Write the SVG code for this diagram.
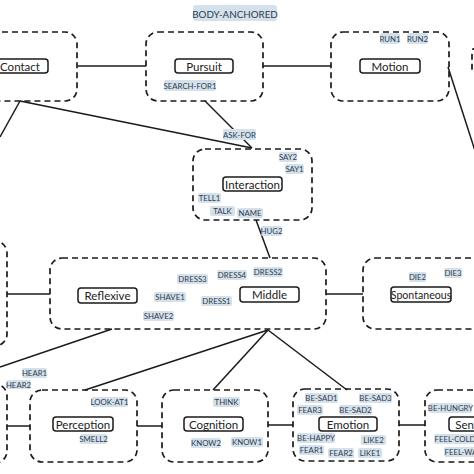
<svg xmlns="http://www.w3.org/2000/svg" width="474" height="474" viewBox="0 0 474 474">
<style>
.grp{fill:none;stroke:#1a1a1a;stroke-width:1.7;stroke-dasharray:6 4}
.lbl{fill:#fff;stroke:#1a1a1a;stroke-width:1.5}
.lt{font-family:Lato,"Open Sans",sans-serif;font-size:11.5px;fill:#222;text-anchor:middle;dominant-baseline:central}
.tag{fill:#d5e1ea}
.tt{font-family:Lato,"Open Sans",sans-serif;font-size:7.8px;fill:#2c3c50;text-anchor:middle;dominant-baseline:central}
.ln{stroke:#1a1a1a;stroke-width:1.5;fill:none}
</style>
<rect width="474" height="474" fill="#fff"/>
<g id="title">
<rect class="tag" x="193" y="5" width="84" height="16" rx="3"/>
<text class="tt" x="235" y="13.5" style="font-size:9.8px">BODY-ANCHORED</text>
</g>
<g id="connectors">
<line class="ln" x1="78" y1="66" x2="146" y2="66"/>
<line class="ln" x1="263" y1="66" x2="331" y2="66"/>
<line class="ln" x1="20" y1="101" x2="0" y2="137"/>
<line class="ln" x1="20" y1="101" x2="252" y2="148"/>
<line class="ln" x1="205" y1="101" x2="252" y2="148"/>
<line class="ln" x1="448" y1="67" x2="478" y2="160"/>
<line class="ln" x1="256" y1="220" x2="270" y2="258"/>
<line class="ln" x1="7" y1="294" x2="50" y2="294"/>
<line class="ln" x1="326" y1="294" x2="363" y2="294"/>
<line class="ln" x1="112" y1="329" x2="0" y2="367"/>
<line class="ln" x1="268" y1="330" x2="85" y2="390"/>
<line class="ln" x1="268" y1="330" x2="213" y2="390"/>
<line class="ln" x1="268" y1="330" x2="347" y2="390"/>
<line class="ln" x1="7" y1="426" x2="30" y2="426"/>
<line class="ln" x1="137" y1="426" x2="162" y2="426"/>
<line class="ln" x1="268" y1="425" x2="293" y2="425"/>
<line class="ln" x1="399" y1="425" x2="425" y2="425"/>
</g>
<g id="contact">
<rect class="grp" x="-60" y="32" width="137" height="69" rx="12"/>
<rect class="lbl" x="-12" y="59" width="60" height="14" rx="3"/>
<text class="lt" x="20" y="66">Contact</text>
</g>
<g id="pursuit">
<rect class="grp" x="146" y="32" width="117" height="69" rx="12"/>
<rect class="lbl" x="175" y="59" width="58" height="14" rx="3"/>
<text class="lt" x="204" y="66">Pursuit</text>
<rect class="tag" x="164" y="80" width="52" height="11" rx="2"/><text class="tt" x="190" y="85.5">SEARCH-FOR1</text>
</g>
<g id="motion">
<rect class="grp" x="331" y="32" width="118" height="69" rx="12"/>
<rect class="lbl" x="360" y="59" width="60" height="14" rx="3"/>
<text class="lt" x="390" y="66">Motion</text>
<rect class="tag" x="380" y="33" width="20" height="11" rx="2"/><text class="tt" x="390" y="38.5">RUN1</text>
<rect class="tag" x="407" y="33" width="21" height="11" rx="2"/><text class="tt" x="417.5" y="38.5">RUN2</text>
</g>
<g id="right-top">
<path class="grp" d="M478 48 L473 49 L472 54 L472 72"/>
</g>
<g id="interaction">
<rect class="grp" x="193" y="149" width="119" height="71" rx="12"/>
<rect class="lbl" x="223" y="177" width="59" height="14" rx="3"/>
<text class="lt" x="252.5" y="184">Interaction</text>
<rect class="tag" x="223" y="129" width="33" height="11" rx="2"/><text class="tt" x="239.5" y="134.5">ASK-FOR</text>
<rect class="tag" x="279" y="152" width="18" height="10" rx="2"/><text class="tt" x="288" y="157">SAY2</text>
<rect class="tag" x="285" y="164" width="19" height="10" rx="2"/><text class="tt" x="294.5" y="169">SAY1</text>
<rect class="tag" x="198" y="193" width="23" height="10" rx="2"/><text class="tt" x="209.5" y="198">TELL1</text>
<rect class="tag" x="210" y="206" width="25" height="10" rx="2"/><text class="tt" x="222.5" y="211">TALK</text>
<rect class="tag" x="237" y="208" width="26" height="10" rx="2"/><text class="tt" x="250" y="213">NAME</text>
<rect class="tag" x="261" y="226" width="21" height="10" rx="2"/><text class="tt" x="271.5" y="231">HUG2</text>
</g>
<g id="left-mid">
<rect class="grp" x="-110" y="241" width="117" height="105" rx="12"/>
</g>
<g id="middle-group">
<rect class="grp" x="50" y="258" width="276" height="71" rx="12"/>
<rect class="lbl" x="78" y="288" width="59" height="15" rx="3"/>
<text class="lt" x="107.5" y="295.5">Reflexive</text>
<rect class="lbl" x="240" y="287" width="59" height="15" rx="3"/>
<text class="lt" x="269.5" y="294.5">Middle</text>
<rect class="tag" x="177" y="274" width="31" height="10" rx="2"/><text class="tt" x="192.5" y="279">DRESS3</text>
<rect class="tag" x="217" y="270" width="30" height="10" rx="2"/><text class="tt" x="232" y="275">DRESS4</text>
<rect class="tag" x="253" y="267" width="30" height="10" rx="2"/><text class="tt" x="268" y="272">DRESS2</text>
<rect class="tag" x="154" y="292" width="32" height="10" rx="2"/><text class="tt" x="170" y="297">SHAVE1</text>
<rect class="tag" x="201" y="296" width="31" height="10" rx="2"/><text class="tt" x="216.5" y="301">DRESS1</text>
<rect class="tag" x="143" y="311" width="31" height="10" rx="2"/><text class="tt" x="158.5" y="316">SHAVE2</text>
</g>
<g id="spontaneous">
<rect class="grp" x="363" y="258" width="140" height="71" rx="12"/>
<rect class="lbl" x="391" y="287" width="60" height="15" rx="3"/>
<text class="lt" x="421" y="294.5" style="font-size:10.6px">Spontaneous</text>
<rect class="tag" x="409" y="272" width="17" height="10" rx="2"/><text class="tt" x="417.5" y="277">DIE2</text>
<rect class="tag" x="444" y="268" width="18" height="10" rx="2"/><text class="tt" x="453" y="273">DIE3</text>
</g>
<g id="hear">
<rect class="grp" x="-110" y="384" width="117" height="79" rx="12"/>
<rect class="tag" x="22" y="368" width="25" height="10" rx="2"/><text class="tt" x="34.5" y="373">HEAR1</text>
<rect class="tag" x="6" y="380" width="25" height="9" rx="2"/><text class="tt" x="18.5" y="384.5">HEAR2</text>
</g>
<g id="perception">
<rect class="grp" x="30" y="390" width="107" height="72" rx="12"/>
<rect class="lbl" x="53" y="417" width="60" height="14" rx="3"/>
<text class="lt" x="83" y="424">Perception</text>
<rect class="tag" x="91" y="397" width="37" height="10" rx="2"/><text class="tt" x="109.5" y="402">LOOK-AT1</text>
<rect class="tag" x="80" y="434" width="27" height="10" rx="2"/><text class="tt" x="93.5" y="439">SMELL2</text>
</g>
<g id="cognition">
<rect class="grp" x="162" y="390" width="106" height="72" rx="12"/>
<rect class="lbl" x="184" y="417" width="59" height="14" rx="3"/>
<text class="lt" x="213.5" y="424">Cognition</text>
<rect class="tag" x="213" y="397" width="27" height="10" rx="2"/><text class="tt" x="226.5" y="402">THINK</text>
<rect class="tag" x="191" y="438" width="30" height="10" rx="2"/><text class="tt" x="206" y="443">KNOW2</text>
<rect class="tag" x="231" y="437" width="32" height="10" rx="2"/><text class="tt" x="247" y="442">KNOW1</text>
</g>
<g id="emotion">
<rect class="grp" x="293" y="389" width="106" height="72" rx="12"/>
<rect class="lbl" x="319" y="417" width="58" height="14" rx="3"/>
<text class="lt" x="348" y="424">Emotion</text>
<rect class="tag" x="305" y="393" width="33" height="10" rx="2"/><text class="tt" x="321.5" y="398">BE-SAD1</text>
<rect class="tag" x="359" y="393" width="33" height="10" rx="2"/><text class="tt" x="375.5" y="398">BE-SAD3</text>
<rect class="tag" x="297" y="405" width="26" height="10" rx="2"/><text class="tt" x="310" y="410">FEAR3</text>
<rect class="tag" x="339" y="405" width="33" height="10" rx="2"/><text class="tt" x="355.5" y="410">BE-SAD2</text>
<rect class="tag" x="297" y="433" width="38" height="10" rx="2"/><text class="tt" x="316" y="438">BE-HAPPY</text>
<rect class="tag" x="361" y="435" width="25" height="10" rx="2"/><text class="tt" x="373.5" y="440">LIKE2</text>
<rect class="tag" x="299" y="445" width="25" height="10" rx="2"/><text class="tt" x="311.5" y="450">FEAR1</text>
<rect class="tag" x="328" y="448" width="26" height="10" rx="2"/><text class="tt" x="341" y="453">FEAR2</text>
<rect class="tag" x="358" y="448" width="24" height="10" rx="2"/><text class="tt" x="370" y="453">LIKE1</text>
</g>
<g id="sensation">
<rect class="grp" x="425" y="390" width="110" height="72" rx="12"/>
<rect class="lbl" x="449" y="417" width="62" height="14" rx="3"/>
<text class="lt" x="480" y="424">Sensation</text>
<rect class="tag" x="429" y="403" width="43" height="10" rx="2"/><text class="tt" x="450.5" y="408">BE-HUNGRY</text>
<rect class="tag" x="434" y="434" width="42" height="10" rx="2"/><text class="tt" x="455" y="439">FEEL-COLD</text>
<rect class="tag" x="444" y="447" width="46" height="10" rx="2"/><text class="tt" x="467" y="452">FEEL-WARM</text>
</g>
</svg>
